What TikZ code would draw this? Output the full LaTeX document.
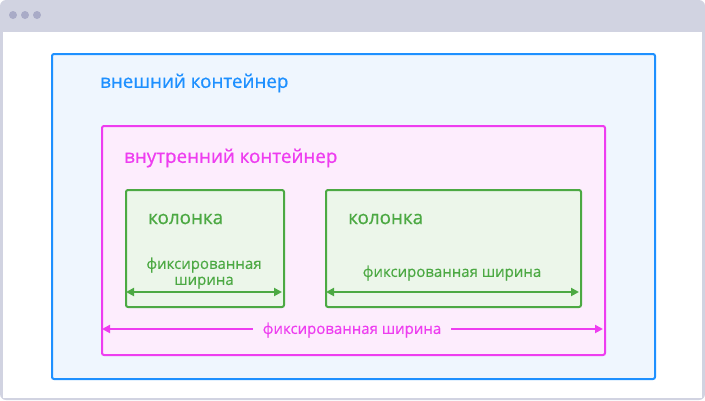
\documentclass[tikz,border=0pt]{standalone}
\usepackage{fontspec}
\setmainfont{Open Sans}
\newfontfamily\titlefont[FakeBold=0.8]{Open Sans}
\newfontfamily\labelfont[FakeBold=0.4]{Open Sans}
\usetikzlibrary{arrows.meta, positioning, calc}

\definecolor{framegray}{HTML}{D1D3E1}
\definecolor{dotgray}{HTML}{A9ABC7}
\definecolor{outerblue}{HTML}{1E90FF}
\definecolor{outerfill}{HTML}{EFF6FE}
\definecolor{innermag}{HTML}{EE3DF0}
\definecolor{innerfill}{HTML}{FDEDFD}
\definecolor{colgreen}{HTML}{4CA943}
\definecolor{colfill}{HTML}{ECF6EA}

\tikzset{
    box/.style={draw, line width=2pt, rounded corners=2pt, anchor=north west, inner sep=0pt},
    outerbox/.style={box, draw=outerblue, fill=outerfill},
    innerbox/.style={box, draw=innermag, fill=innerfill},
    colbox/.style={box, draw=colgreen, fill=colfill},
    title/.style={anchor=west, inner sep=0pt, font=\titlefont\fontsize{18.8}{22}\selectfont},
    widthlabel/.style={inner sep=0pt, align=center, font=\labelfont\fontsize{15}{16}\selectfont},
    dimarrow/.style={line width=2pt, {Triangle[length=8pt,width=8pt]}-{Triangle[length=8pt,width=8pt]}},
}

\begin{document}
\begin{tikzpicture}[x=1pt, y=-1pt]
    \useasboundingbox (0,0) rectangle (705,400);

    % browser window
    \fill[framegray, rounded corners=6pt] (0,0) rectangle (705,400);
    \fill[white] (3,32) rectangle (702,398);
    \foreach \dx in {13,25,37}
        \fill[dotgray] (\dx,15) circle (4pt);

    % outer container
    \node[outerbox, minimum width=603pt, minimum height=325pt] (outer) at (51,53) {};
    \node[title, text=outerblue] (outerlabel) at (100,83) {внешний контейнер};

    % inner container
    \node[innerbox, minimum width=503pt, minimum height=229pt] (inner) at (101,125) {};
    \node[title, text=innermag] (innerlabel) at (124,158) {внутренний контейнер};

    % columns
    \node[colbox, minimum width=158pt, minimum height=117pt] (colA) at (125,189) {};
    \node[colbox, minimum width=255pt, minimum height=117pt] (colB) at (325,189) {};
    \node[title, text=colgreen] (colAlabel) at (148,219) {колонка};
    \node[title, text=colgreen] (colBlabel) at (348,219) {колонка};

    % column widths
    \node[widthlabel, text=colgreen] (colAwidth) at (204,273) {фиксированная\\ширина};
    \node[widthlabel, text=colgreen] (colBwidth) at (452,273) {фиксированная ширина};
    \coordinate (colAleft) at (126,292);
    \coordinate (colAright) at (282,292);
    \coordinate (colBleft) at (326,292);
    \coordinate (colBright) at (579,292);
    \draw[dimarrow, colgreen] (colAleft) -- (colAright);
    \draw[dimarrow, colgreen] (colBleft) -- (colBright);

    % inner width, split around its label
    \node[widthlabel, text=innermag] (innerwidth) at (352,330) {фиксированная ширина};
    \coordinate (innerleft) at (102,329);
    \coordinate (innerright) at (603,329);
    \draw[line width=2pt, innermag, {Triangle[length=8pt,width=8pt]}-] (innerleft) -- (innerleft -| {$(innerwidth.west)+(-10,0)$});
    \draw[line width=2pt, innermag, -{Triangle[length=8pt,width=8pt]}] (innerright -| {$(innerwidth.east)+(10,0)$}) -- (innerright);
\end{tikzpicture}
\end{document}
